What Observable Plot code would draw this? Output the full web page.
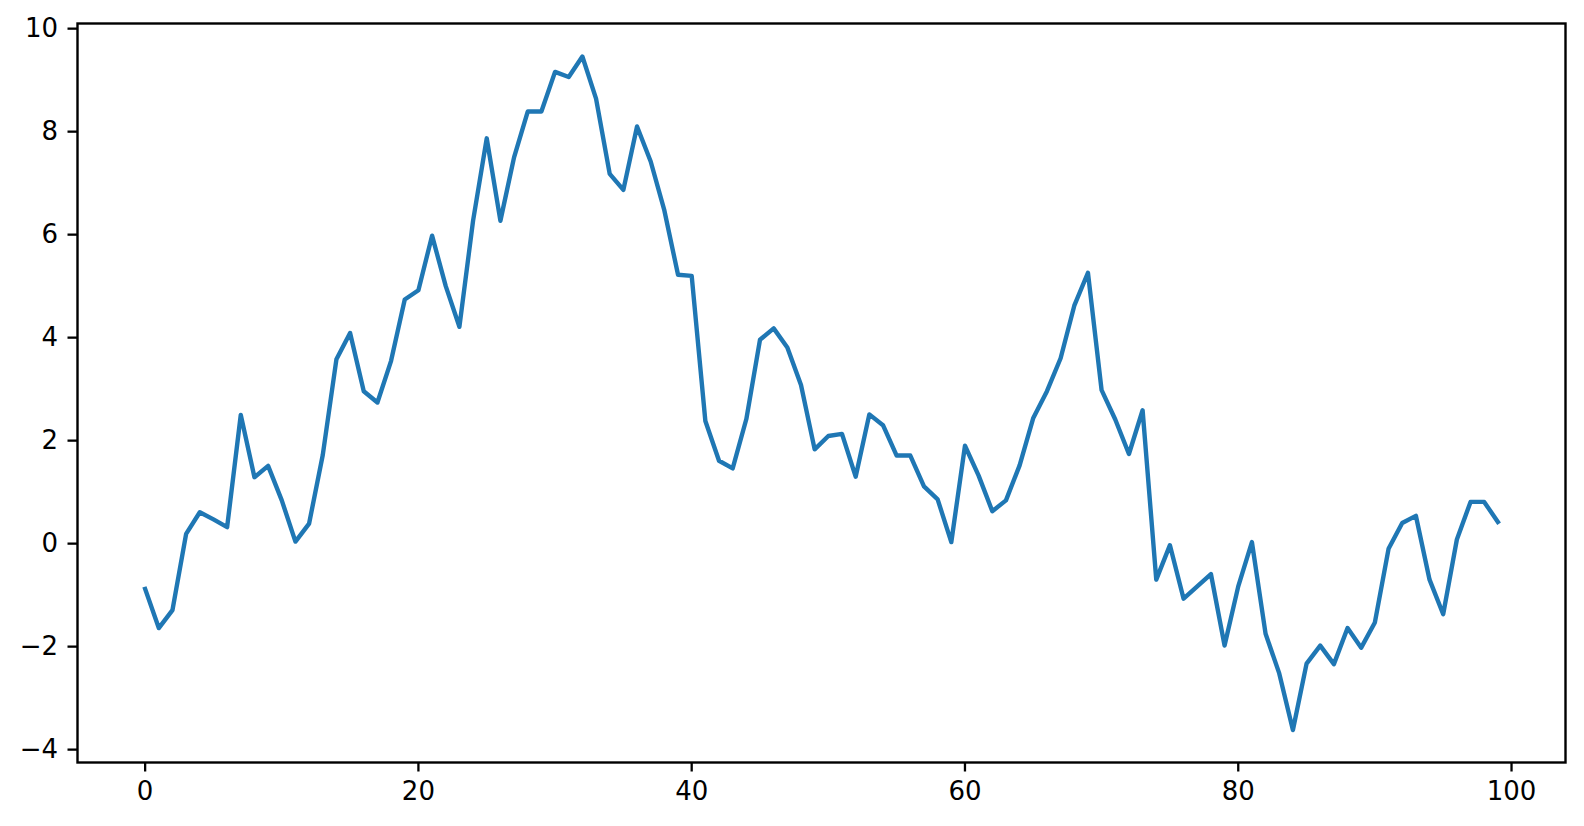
<!DOCTYPE html>
<html>
<head>
<meta charset="utf-8">
<script src="https://cdn.jsdelivr.net/npm/d3@7"></script>
<script src="https://cdn.jsdelivr.net/npm/@observablehq/plot@0.6"></script>
<style>
  html, body { margin: 0; padding: 0; background: #fff; }
  #chart svg { display: block; }
</style>
</head>
<body>
<div id="chart"></div>
<script>
const values = [
  -0.88, -1.64, -1.29, 0.19, 0.61, 0.47, 0.32, 2.50, 1.29, 1.51,
  0.84, 0.04, 0.39, 1.72, 3.58, 4.09, 2.96, 2.74, 3.55, 4.74,
  4.92, 5.98, 5.00, 4.21, 6.27, 7.87, 6.27, 7.50, 8.39, 8.39,
  9.16, 9.06, 9.46, 8.64, 7.18, 6.87, 8.10, 7.42, 6.47, 5.22,
  5.20, 2.38, 1.61, 1.46, 2.42, 3.96, 4.18, 3.81, 3.08, 1.83,
  2.09, 2.13, 1.30, 2.51, 2.30, 1.71, 1.71, 1.11, 0.86, 0.03,
  1.90, 1.32, 0.63, 0.84, 1.52, 2.44, 2.96, 3.60, 4.62, 5.26,
  2.98, 2.41, 1.74, 2.59, -0.70, -0.03, -1.07, -0.83, -0.59, -1.98,
  -0.83, 0.03, -1.75, -2.52, -3.62, -2.33, -1.98, -2.34, -1.64, -2.02,
  -1.53, -0.10, 0.40, 0.54, -0.70, -1.37, 0.08, 0.81, 0.81, 0.42
];
const xTicks = [0, 20, 40, 60, 80, 100];
const yTicks = [-4, -2, 0, 2, 4, 6, 8, 10];

const data = values.map((v, i) => ({x: i, y: v}));

const chart = Plot.plot({
  width: 1584,
  height: 826,
  marginLeft: 77,
  marginRight: 19,
  marginTop: 23,
  marginBottom: 64,
  style: {fontFamily: "DejaVu Sans", fontSize: "26px", color: "#000", background: "#fff"},
  x: {domain: [-4.95, 103.95], ticks: xTicks, label: null},
  y: {domain: [-4.25, 10.1], ticks: yTicks, label: null},
  marks: [
    Plot.axisX({ticks: xTicks, tickSize: 9.5, tickPadding: 10, label: null, fontSize: 26, strokeWidth: 2.3}),
    Plot.axisY({ticks: yTicks, tickSize: 9.5, tickPadding: 10, label: null, fontSize: 26, strokeWidth: 2.3}),
    Plot.line(data, {x: "x", y: "y", stroke: "#1f77b4", strokeWidth: 4.4, strokeLinejoin: "round", strokeLinecap: "square"}),
    Plot.frame({stroke: "#000", strokeWidth: 2.4})
  ]
});
document.getElementById("chart").appendChild(chart);
</script>
</body>
</html>
